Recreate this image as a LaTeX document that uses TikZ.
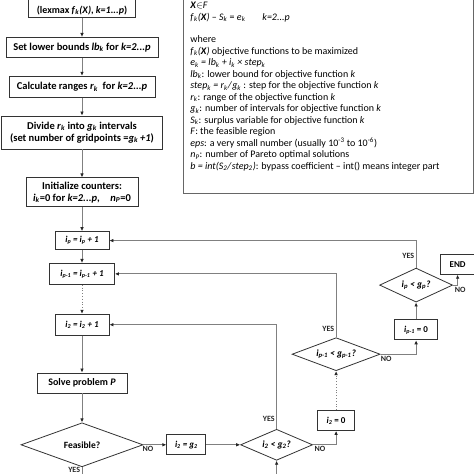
\documentclass[tikz,border=0pt]{standalone}
\usepackage{fontspec}
\setmainfont{Carlito}
\usetikzlibrary{positioning, shapes.geometric, arrows.meta}

\newcommand{\ix}[2]{\textit{#1}\textsubscript{\textit{#2}}}

\tikzset{
  stepbox/.style={rectangle, draw=black!80, line width=0.8pt, fill=white, inner xsep=2pt, inner ysep=3pt, align=center, font=\fontsize{10.5}{12}\selectfont\bfseries},
  counterbox/.style={stepbox, font=\fontsize{9}{11}\selectfont\bfseries},
  decision/.style={diamond, draw=black!80, line width=0.8pt, fill=white, inner sep=0pt, aspect=2.2, font=\fontsize{9.5}{11}\selectfont\bfseries\itshape},
  flow/.style={draw=black!50, line width=0.8pt, -{Latex[length=4pt,width=3.6pt,color=black!85]}},
  plainline/.style={draw=black!50, line width=0.8pt},
  lbl/.style={font=\fontsize{8}{9}\selectfont\bfseries, text=black!85, inner sep=1.5pt},
  legend/.style={rectangle, draw=black!60, line width=0.9pt, anchor=north west, inner xsep=7pt, inner ysep=3pt, font=\fontsize{10}{11.5}\selectfont}
}
\newcommand{\flowedge}[3][]{\draw[flow,#1] (#2) -- (#3);}

\begin{document}
\begin{tikzpicture}[x=1pt, y=1pt]
        \useasboundingbox (0,0) rectangle (474,474);
        \clip (0,0) rectangle (474,474);

        % NODES
        % -----------------

        % main column
        \node[stepbox, anchor=south, minimum width=107pt, font=\fontsize{10}{12}\selectfont\bfseries] (lexmax) at (82,456) {\strut\\(lexmax \ix{f}{k}\textit{(X)}, \textit{k=1...p})};

        \node[stepbox, below=19pt of lexmax, minimum width=152pt, minimum height=20pt] (lower_bounds) {Set lower bounds \ix{lb}{k} for \textit{k=2...p}};
        \node[stepbox, below=18pt of lower_bounds, minimum width=146pt, minimum height=21pt] (ranges) {Calculate ranges \ix{r}{k}\ \ for \textit{k=2...p}};
        \node[stepbox, below=18pt of ranges, minimum width=161pt, minimum height=33pt] (divide) {Divide \ix{r}{k} into \ix{g}{k} intervals\\(set number of gridpoints =\ix{g}{k}\,\textit{+1})};
        \node[stepbox, below=28pt of divide, minimum width=112pt, minimum height=29pt] (init) {Initialize counters:\\\ix{i}{k}=0 for \textit{k=2...p},\quad \ix{n}{P}=0};

        \node[counterbox, below=24pt of init, minimum width=54pt, minimum height=18pt] (inc_p) {\ix{i}{p} \textit{=} \ix{i}{p} \textit{+ 1}};
        \node[counterbox, below=13pt of inc_p, minimum width=65pt, minimum height=21pt] (inc_pm1) {\ix{i}{p-1} \textit{=} \ix{i}{p-1} \textit{+ 1}};
        \node[counterbox, below=29pt of inc_pm1, minimum width=54pt, minimum height=21pt] (inc_2) {\ix{i}{2} \textit{=} \ix{i}{2} \textit{+ 1}};
        \node[stepbox, below=37pt of inc_2, minimum width=90pt, minimum height=20pt, font=\fontsize{10}{12}\selectfont\bfseries] (solve) {Solve problem \textit{P}};

        \node[decision, below=29pt of solve, minimum width=122pt, minimum height=44pt, font=\fontsize{9.5}{11}\selectfont\bfseries] (feasible) {Feasible?};

        % counter updates to the right
        \node[counterbox, right=23pt of feasible, minimum width=39pt, minimum height=20pt] (set_g2) {\ix{i}{2} \textit{=} \ix{g}{2}};
        \node[decision, right=34pt of set_g2, minimum width=72pt, minimum height=31pt] (dec_2) {i\textsubscript{2} < g\textsubscript{2}?};

        \node[counterbox, above=-2pt of dec_2, xshift=59.5pt, minimum width=37pt, minimum height=20pt] (zero_2) {\ix{i}{2} = 0};
        \node[decision, above=39pt of zero_2, minimum width=88pt, minimum height=33pt] (dec_pm1) {i\textsubscript{p-1} < g\textsubscript{p-1}?};

        \node[counterbox, above=-3pt of dec_pm1, xshift=80pt, minimum width=43pt, minimum height=20pt] (zero_pm1) {\ix{i}{p-1} = 0};
        \node[decision, above=17pt of zero_pm1, minimum width=73pt, minimum height=34pt] (dec_p) {i\textsubscript{p} < g\textsubscript{p}?};

        \node[counterbox, above=-7pt of dec_p, xshift=41.5pt, minimum width=34pt, minimum height=20pt] (end) {END};

        % free ends at the bottom
        \coordinate[below=20pt of feasible] (feas_yes);
        \coordinate[below=25pt of dec_2] (loop_in);

        % notation box
        \node[legend] (notes) at (183,475) {\parbox[t][188pt][t]{276pt}{\raggedright
            \textbf{\textit{X}}$\in$\textit{F}\\
            \makebox[72pt][l]{\ix{f}{k}\textit{(}\textbf{\textit{X}}\textit{)} -- \ix{S}{k} = \ix{e}{k}}\textit{k=2...p}\\[11pt]
            where\\
            \ix{f}{k}\textit{(}\textbf{\textit{X}}\textit{)} objective functions to be maximized\\
            \ix{e}{k} \textit{=} \ix{lb}{k} \textit{+} \ix{i}{k} \textit{× step}\textsubscript{\textit{k}}\\
            \ix{lb}{k}: lower bound for objective function \textit{k}\\
            \ix{step}{k} \textit{=} \ix{r}{k}\textit{/}\ix{g}{k} : step for the objective function \textit{k}\\
            \ix{r}{k}: range of the objective function \textit{k}\\
            \ix{g}{k}: number of intervals for objective function \textit{k}\\
            \ix{S}{k}: surplus variable for objective function \textit{k}\\
            \textit{F}: the feasible region\\
            \textit{eps}: a very small number (usually 10\textsuperscript{-3} to 10\textsuperscript{-6})\\
            \ix{n}{P}: number of Pareto optimal solutions\\
            \textit{b = int(}\ix{S}{2}\textit{/}\ix{step}{2}\textit{)}: bypass coefficient -- int() means integer part}};

        % EDGES
        % -----------------
        \flowedge{lexmax}{lower_bounds}
        \flowedge{lower_bounds}{ranges}
        \flowedge{ranges}{divide}
        \flowedge{divide}{init}
        \flowedge{init}{inc_p}
        \flowedge{inc_p}{inc_pm1}
        \flowedge[dotted]{inc_pm1}{inc_2}
        \flowedge{inc_2}{solve}
        \flowedge{solve}{feasible}

        \draw[plainline] (feasible) -- node[lbl, pos=0.13, left] {YES} (feas_yes);
        \draw[flow] (feasible) -- node[lbl, pos=0.2, below] {NO} (set_g2);
        \flowedge{set_g2}{dec_2}
        \flowedge{loop_in}{dec_2}

        \draw[flow] (dec_2.east) -| node[lbl, pos=0.15, below] {NO} (zero_2.south);
        \flowedge[dotted]{zero_2}{dec_pm1}
        \draw[flow] (dec_pm1.east) -| node[lbl, pos=0.08, below] {NO} (zero_pm1.south);
        \flowedge{zero_pm1}{dec_p}
        \draw[flow] (dec_p.east) -| node[lbl, at start, below right] {NO} (end.south);

        % loops back
        \draw[flow] (dec_2.north) |- node[lbl, pos=0.05, left] {YES} (inc_2.east);
        \draw[flow] (dec_pm1.north) |- node[lbl, pos=0.07, left] {YES} (inc_pm1.east);
        \draw[flow] (dec_p.north) |- node[lbl, pos=0.22, left] {YES} (inc_p.east);

    \end{tikzpicture}
\end{document}
